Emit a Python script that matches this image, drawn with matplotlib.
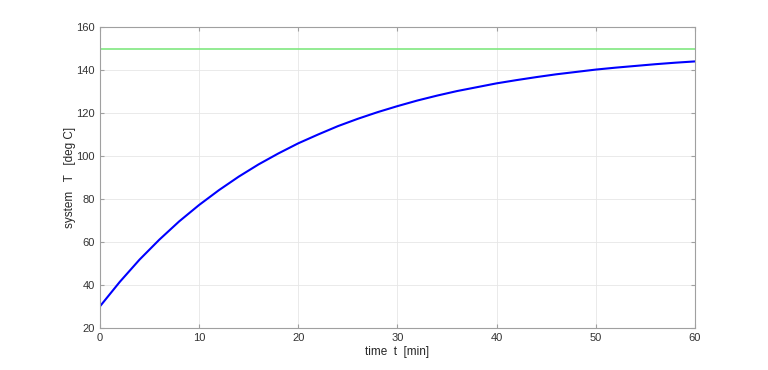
import numpy as np
import matplotlib
matplotlib.use('Agg')
import matplotlib.pyplot as plt

plt.rcParams['font.family'] = ['Liberation Sans', 'DejaVu Sans']

# values
time_min = [0, 2, 4, 6, 8, 10, 12, 14, 16, 18, 20, 22, 24, 26, 28, 30,
            32, 34, 36, 38, 40, 42, 44, 46, 48, 50, 52, 54, 56, 58, 60]
system_T = [30.0, 41.4, 51.8, 61.1, 69.6, 77.2, 84.1, 90.4, 96.1, 101.2,
            105.9, 110.0, 113.9, 117.3, 120.4, 123.2, 125.8, 128.1, 130.2,
            132.0, 133.8, 135.3, 136.7, 138.0, 139.1, 140.2, 141.1, 141.9,
            142.7, 143.4, 144.0]
setpoint_t = [0, 60]
setpoint_T = [150, 150]

xticks = [0, 10, 20, 30, 40, 50, 60]
yticks = [20, 40, 60, 80, 100, 120, 140, 160]

fig = plt.figure(figsize=(7.68, 3.70), dpi=100)
ax = fig.add_axes([0.130, 0.1135, 0.775, 0.8135])

ax.plot(setpoint_t, setpoint_T, color='#80e880', linewidth=1.2)
ax.plot(time_min, system_T, color='#0000ff', linewidth=1.5)

ax.set_xlim(0, 60)
ax.set_ylim(20, 160)
ax.set_xticks(xticks)
ax.set_yticks(yticks)
ax.grid(True, color='#e6e6e6', linewidth=0.6)
ax.set_axisbelow(True)
for s in ax.spines.values():
    s.set_color('#a0a0a0')
    s.set_linewidth(0.8)
ax.tick_params(direction='in', length=3, colors='#a0a0a0', labelcolor='#333333',
               labelsize=8, top=True, right=True)

ax.set_xlabel('time  t  [min]', fontsize=8.5, color='#262626', labelpad=2)
ax.set_ylabel('system   T   [deg C]', fontsize=8.5, color='#262626', labelpad=0)

fig.savefig('out.png', dpi=100)
